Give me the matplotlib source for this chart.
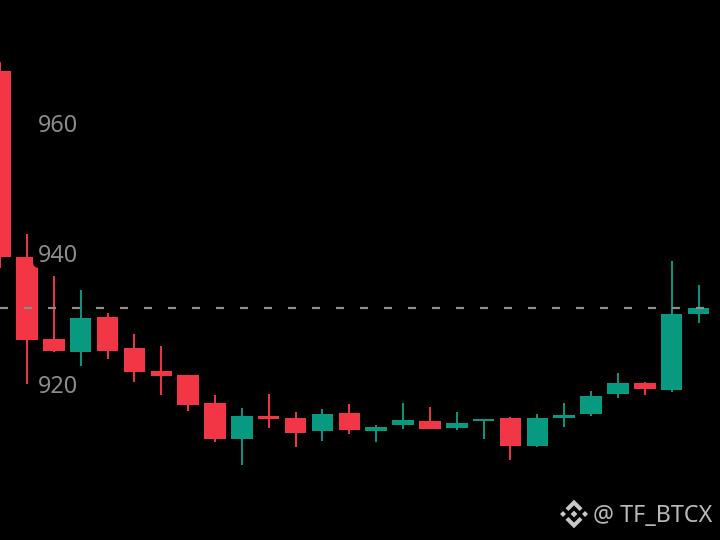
import matplotlib
matplotlib.use('Agg')
import matplotlib.pyplot as plt
from matplotlib.patches import FancyBboxPatch, Polygon, Rectangle
from matplotlib.transforms import IdentityTransform, blended_transform_factory

# candles, left to right
opens = [968.17, 939.66, 927.00, 925.10, 930.46, 925.62, 922.10, 921.48, 917.19, 911.68, 915.25, 914.94, 912.95, 915.71,
         912.99, 913.82, 914.53, 913.45, 914.43, 914.94, 910.69, 914.89, 915.60, 918.57, 920.30, 919.28, 930.93]
closes = [939.57, 926.90, 925.21, 930.31, 925.25, 922.04, 921.42, 916.93, 911.68, 915.25, 914.83, 912.60, 915.51, 913.06,
          913.61, 914.59, 913.25, 914.17, 914.83, 910.69, 914.94, 915.35, 918.31, 920.30, 919.34, 930.88, 931.85]
highs = [969.55, 943.14, 936.70, 934.56, 931.03, 927.81, 926.02, 921.53, 918.47, 916.47, 918.62, 915.81, 916.32, 917.09,
         913.82, 917.19, 916.67, 915.81, 914.83, 915.09, 915.55, 917.29, 919.03, 921.88, 920.50, 939.00, 935.37]
lows = [937.93, 920.15, 925.13, 922.96, 924.03, 920.50, 918.47, 915.97, 911.26, 907.78, 913.45, 910.45, 911.46, 912.54,
        911.22, 913.30, 913.21, 913.10, 911.72, 908.55, 910.45, 913.51, 915.29, 918.05, 918.47, 918.97, 929.55]

price_ticks = [960, 940, 920]
last_price = 931.85
handle = '@ TF_BTCX'

RED = '#f23645'
GREEN = '#089981'
GRAY = '#8c8c8c'
LOGO = '#c8c8c8'

fig = plt.figure(figsize=(7.2, 5.4), dpi=100, facecolor='black')
ax = fig.add_axes([0, 0, 1, 1], facecolor='black')
ax.set_xlim(-0.005, 26.8)
ax.set_ylim(896.25, 979.0)
ax.axis('off')

body_w = 0.8
for i in range(len(opens)):
    c = GREEN if closes[i] >= opens[i] else RED
    ax.plot([i, i], [lows[i], highs[i]], color=c, lw=1.4, solid_capstyle='butt', zorder=2)
    bottom = min(opens[i], closes[i])
    height = abs(closes[i] - opens[i])
    ax.add_patch(Rectangle((i - body_w / 2, bottom), body_w, height, facecolor=c, edgecolor='none', zorder=3))

# price labels sit at a fixed pixel x, with a black rounded box that clips the candle behind
label_tr = blended_transform_factory(fig.dpi_scale_trans, ax.transData)
for p in price_ticks:
    py = ax.transData.transform((0, p))[1]
    ax.add_patch(FancyBboxPatch((39, py - 7.5), 36, 15, boxstyle='round,pad=6,rounding_size=6', facecolor='black',
                                edgecolor='none', transform=IdentityTransform(), zorder=4))
    ax.text(0.783, p - 0.27, str(p), transform=label_tr, ha='right', va='center', color=GRAY,
            fontsize=16.8, family='Noto Sans', zorder=5)

ax.axhline(last_price, color=GRAY, lw=1.6, dashes=(3.6, 7.2), zorder=6)


# logo shapes are given in pixels from the logo centre
def logo_shape(points, cx=574, cy=514):
    fig.add_artist(Polygon([((cx + x) / 720, 1 - (cy + y) / 540) for x, y in points], closed=True,
                           facecolor=LOGO, edgecolor='none', transform=fig.transFigure, zorder=7))


def small_diamond(dx, r):
    logo_shape([(dx - r, 0), (dx, r), (dx + r, 0), (dx, -r)])


top_chevron = [(0, -14.3), (8.5, -5.8), (5.6, -3), (0, -8.6), (-5.6, -3), (-8.5, -5.8)]
logo_shape(top_chevron)
logo_shape([(x, -y) for x, y in top_chevron])
small_diamond(0, 3.4)
small_diamond(-11, 3)
small_diamond(11, 3)

fig.text(712 / 720, 1 - 522 / 540, handle, ha='right', va='baseline', color='#b8b8b8', fontsize=16.8,
         family='Noto Sans', zorder=7)

fig.savefig('out.png', dpi=100, facecolor='black')
